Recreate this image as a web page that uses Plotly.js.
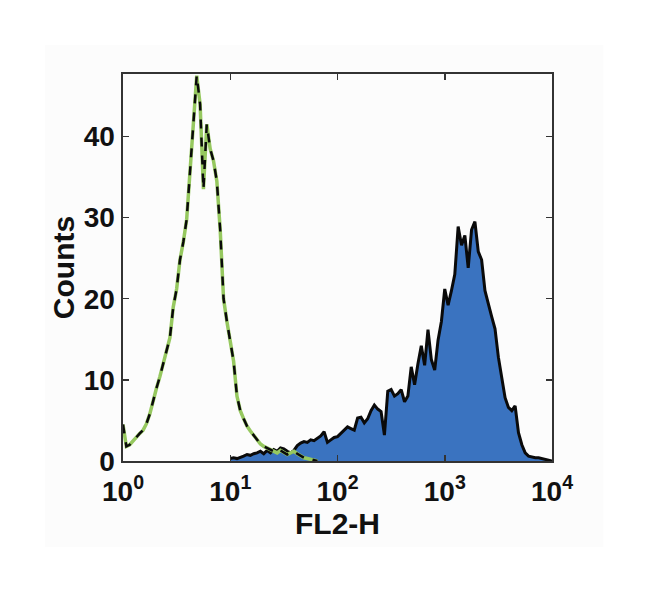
<!DOCTYPE html>
<html>
<head>
<meta charset="utf-8">
<script src="https://cdn.plot.ly/plotly-3.0.1.min.js"></script>
<style>
  html, body { margin: 0; padding: 0; background: #ffffff; }
  #chart { width: 650px; height: 594px; }
</style>
</head>
<body>
<div id="chart"></div>
<script>
// Histogram channels: 32 channels per decade, 4 decades (FL2-H from 10^0 to 10^4)
const channelsPerDecade = 32;

// Control histogram (green line, black dashed overlay), starts at channel 0
const controlStartChannel = 0;
const controlCounts = [
  4.5, 1.8, 2.0, 2.5, 3.0, 3.4, 3.8, 4.6, 5.8, 7.6,
  9.0, 10.4, 12.0, 13.4, 15.2, 19.0, 21.2, 24.8, 27.0, 29.8,
  36.0, 42.0, 47.5, 44.0, 33.5, 41.5, 38.5, 37.0, 34.5, 28.5,
  20.0, 17.2, 14.8, 12.3, 8.0, 6.2, 5.2, 4.3, 3.7, 3.2,
  2.6, 2.1, 1.8, 1.6, 1.4, 1.2, 1.0, 1.3, 1.1, 0.8,
  1.0, 1.2, 0.9, 0.6, 0.4, 0.3, 0.2, 0.1, 0.0
];

// Stained histogram (blue filled, black outline), starts at channel 32
const stainedStartChannel = 32;
const stainedCounts = [
  0.3, 0.4, 0.3, 0.5, 0.6, 0.8, 0.7, 0.9, 1.0, 1.2,
  0.9, 1.3, 1.0, 1.4, 1.2, 1.6, 1.5, 1.2, 1.0, 1.3,
  1.9, 2.2, 2.4, 2.3, 2.6, 2.5, 2.8, 3.1, 3.6, 2.3,
  2.6, 2.9, 3.0, 3.4, 3.7, 4.2, 4.0, 3.8, 5.3, 5.4,
  4.7, 5.2, 6.2, 6.9, 6.4, 6.1, 3.2, 8.6, 8.8, 8.0,
  8.3, 8.8, 7.3, 8.0, 11.6, 9.4, 12.0, 14.2, 11.8, 16.2,
  12.5, 11.2, 14.9, 17.2, 21.2, 19.2, 21.0, 23.0, 28.9, 26.6,
  27.8, 23.8, 28.5, 29.5, 25.8, 24.8, 21.0, 19.2, 17.8, 16.3,
  12.8, 10.3, 7.8, 6.6, 6.2, 6.8, 3.5, 2.0, 1.0, 0.6,
  0.5, 0.4, 0.4, 0.3, 0.2, 0.1, 0.0
];

// Axis ticks
const xTickVals = [1, 10, 100, 1000, 10000];
const xTickText = ['10<sup>0</sup>', '10<sup>1</sup>', '10<sup>2</sup>', '10<sup>3</sup>', '10<sup>4</sup>'];
const yTickVals = [0, 10, 20, 30, 40];
const yTickText = ['0', '10', '20', '30', '40'];
const xLabel = 'FL2-H';
const yLabel = 'Counts';

function channelToValue(start, n) {
  const xs = [];
  for (let i = 0; i < n; i++) xs.push(Math.pow(10, (start + i) / channelsPerDecade));
  return xs;
}

const controlX = channelToValue(controlStartChannel, controlCounts.length);
const stainedX = channelToValue(stainedStartChannel, stainedCounts.length);

const traces = [
  {
    x: stainedX, y: stainedCounts, type: 'scatter', mode: 'lines',
    fill: 'tozeroy', fillcolor: 'rgb(58,115,192)',
    line: { color: 'rgba(0,0,0,0)', width: 0 },
    hoverinfo: 'skip', showlegend: false
  },
  {
    x: stainedX, y: stainedCounts, type: 'scatter', mode: 'lines',
    line: { color: '#0a0a0a', width: 3 },
    showlegend: false
  },
  {
    x: controlX, y: controlCounts, type: 'scatter', mode: 'lines',
    line: { color: 'rgb(150,200,95)', width: 3.5 },
    showlegend: false
  },
  {
    x: controlX, y: controlCounts, type: 'scatter', mode: 'lines',
    line: { color: '#0a0a0a', width: 2.5, dash: 'dash' },
    showlegend: false
  }
];

const tickFont = { family: 'Liberation Sans, Arial, sans-serif', size: 28, color: '#111', weight: 'bold' };
const titleFont = { family: 'Liberation Sans, Arial, sans-serif', size: 30, color: '#111', weight: 'bold' };

const layout = {
  width: 650, height: 594,
  margin: { l: 123, r: 98, t: 74, b: 133, pad: 0 },
  paper_bgcolor: '#ffffff',
  plot_bgcolor: '#ffffff',
  showlegend: false,
  xaxis: {
    type: 'log', range: [0, 4],
    tickvals: xTickVals, ticktext: xTickText,
    ticks: 'inside', ticklen: 6, tickwidth: 1.5, tickcolor: '#333',
    showline: true, linecolor: '#333', linewidth: 1.6, mirror: 'ticks',
    showgrid: false, zeroline: false,
    tickfont: tickFont,
    ticklabelstandoff: 5,
    title: { text: xLabel, font: titleFont, standoff: 0 }
  },
  yaxis: {
    range: [0, 47.7],
    tickvals: yTickVals, ticktext: yTickText,
    ticks: 'inside', ticklen: 6, tickwidth: 1.5, tickcolor: '#333',
    showline: true, linecolor: '#333', linewidth: 1.6, mirror: 'ticks',
    showgrid: false, zeroline: false,
    tickfont: tickFont,
    ticklabelstandoff: 1,
    title: { text: yLabel, font: titleFont, standoff: 0 }
  },
  shapes: [
    {
      type: 'rect', xref: 'paper', yref: 'paper', layer: 'below',
      x0: -0.182, x1: 1.12, y0: -0.222, y1: 1.075,
      fillcolor: '#fcfcfc', line: { width: 0 }
    }
  ]
};

Plotly.newPlot('chart', traces, layout, { displayModeBar: false, staticPlot: true });
</script>
</body>
</html>
